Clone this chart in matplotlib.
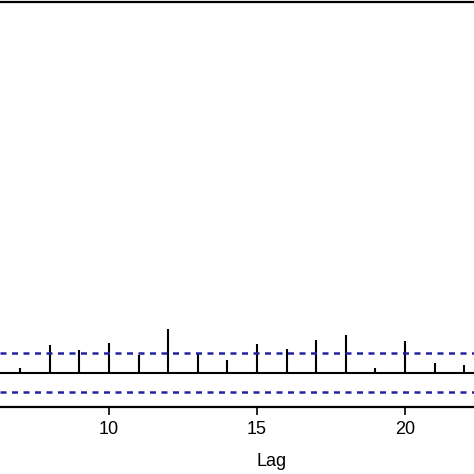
import matplotlib
matplotlib.use('Agg')
import matplotlib.pyplot as plt
import numpy as np

plt.rcParams['font.family'] = ['Liberation Sans', 'DejaVu Sans']
dpi = 100

# Autocorrelation values (visible lags only)
lags = [7, 8, 9, 10, 11, 12, 13, 14, 15, 16, 17, 18, 19, 20, 21, 22]
acf_values = [0.014, 0.078, 0.064, 0.084, 0.050, 0.124, 0.054, 0.037,
              0.080, 0.066, 0.093, 0.105, 0.012, 0.090, 0.027, 0.023]
conf_bound = 0.0548
tick_lags = [10, 15, 20]

fig = plt.figure(figsize=(474/dpi, 474/dpi), dpi=dpi)
# The plot is cropped: axes span the full width, left/right edges fall outside
ax = fig.add_axes([0.0, 0.142, 1.0, 0.8538])

ax.vlines(lags, 0, acf_values, color='black', linewidth=1.5)
ax.axhline(0, color='black', linewidth=1.5)
ax.axhline(conf_bound, color='#2222a0', linewidth=1.8, linestyle=(0, (2.4, 2.2)))
ax.axhline(-conf_bound, color='#2222a0', linewidth=1.8, linestyle=(0, (2.4, 2.2)))

ax.set_xlim(6.318, 22.331)
ax.set_ylim(-0.0956, 1.0421)

ax.spines['left'].set_visible(False)
ax.spines['right'].set_visible(False)
ax.spines['top'].set_linewidth(1.6)
ax.spines['bottom'].set_linewidth(1.6)

ax.set_yticks([])
ax.set_xticks(tick_lags)
ax.set_xticklabels([str(t) for t in tick_lags])
ax.tick_params(axis='x', length=6, width=1.2, pad=4.5, labelsize=13)

# x label sits at the centre of the (uncropped) plot region
ax.text(271.5/474, -0.1366, 'Lag', transform=ax.transAxes,
        ha='center', va='center', fontsize=13)

fig.savefig('out.png', dpi=dpi)
